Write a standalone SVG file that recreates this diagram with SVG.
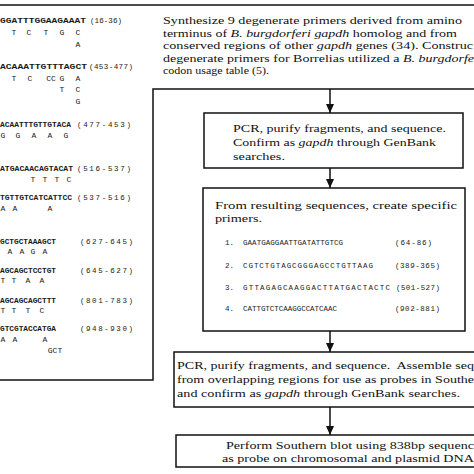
<svg xmlns="http://www.w3.org/2000/svg" width="474" height="474" viewBox="0 0 474 474">
<style>
.seq{font-family:"Liberation Mono",monospace;font-size:8px;fill:#1a1a1a;font-weight:bold}
.var{font-family:"Liberation Mono",monospace;font-size:8px;fill:#1a1a1a;text-anchor:middle}
.lab{font-family:"Liberation Mono",monospace;font-size:7.5px;fill:#1a1a1a}
.p{font-family:"Liberation Serif",serif;font-size:11px;fill:#111}
.ps{font-family:"Liberation Mono",monospace;font-size:7.5px;fill:#1a1a1a}
.box{fill:#fff;stroke:#111;stroke-width:1.5}
.ln{fill:none;stroke:#111;stroke-width:1.5}
.c{stroke:#111;stroke-width:1.5;fill:none;marker-end:url(#ah)}
</style>
<defs>
<marker id="ah" markerUnits="userSpaceOnUse" markerWidth="8" markerHeight="10" refX="9" refY="4" orient="auto">
<path d="M0,0 L9,4 L0,8 z" fill="#111"/>
</marker>
</defs>
<rect width="474" height="474" fill="#fff"/>
<g id="frame">
<line class="ln" x1="0" y1="5" x2="474" y2="5"/>
<path class="ln" d="M0,380 H153 V89 H480"/>
</g>
<g id="primer-list">
<text class="seq" x="0" y="23" textLength="86" lengthAdjust="spacingAndGlyphs">GGATTTGGAAGAAAT</text>
<text class="lab" x="90" y="23" textLength="32">(16-36)</text>
<text class="var" y="35"><tspan x="14">T</tspan><tspan x="29">C</tspan><tspan x="46">T</tspan><tspan x="62">G</tspan><tspan x="78">C</tspan></text>
<text class="var" x="78" y="47">A</text>

<text class="seq" x="0" y="69" textLength="87" lengthAdjust="spacingAndGlyphs">ACAAATTGTTTAGCT</text>
<text class="lab" x="89" y="69" textLength="44">(453-477)</text>
<text class="var" y="81"><tspan x="14">T</tspan><tspan x="30">C</tspan><tspan x="51">CC</tspan><tspan x="62">G</tspan><tspan x="78">A</tspan></text>
<text class="var" y="92"><tspan x="62">T</tspan><tspan x="78">C</tspan></text>
<text class="var" x="78" y="104">G</text>

<text class="seq" x="0" y="127" textLength="71" lengthAdjust="spacingAndGlyphs">ACAATTTGTTGTACA</text>
<text class="lab" x="77" y="127" textLength="54">(477-453)</text>
<text class="var" y="138"><tspan x="3">G</tspan><tspan x="18">G</tspan><tspan x="34">A</tspan><tspan x="50">A</tspan><tspan x="66">G</tspan></text>

<text class="seq" x="0" y="171" textLength="73" lengthAdjust="spacingAndGlyphs">ATGACAACAGTACAT</text>
<text class="lab" x="77" y="171" textLength="54">(516-537)</text>
<text class="var" y="182"><tspan x="33">T</tspan><tspan x="45">T</tspan><tspan x="57">T</tspan><tspan x="69">C</tspan></text>

<text class="seq" x="0" y="200" textLength="72" lengthAdjust="spacingAndGlyphs">TGTTGTCATCATTCC</text>
<text class="lab" x="77" y="200" textLength="54">(537-516)</text>
<text class="var" y="211"><tspan x="3">A</tspan><tspan x="15">A</tspan><tspan x="50">A</tspan></text>

<text class="seq" x="0" y="244" textLength="56" lengthAdjust="spacingAndGlyphs">GCTGCTAAAGCT</text>
<text class="lab" x="80" y="244" textLength="53">(627-645)</text>
<text class="var" y="254"><tspan x="10">A</tspan><tspan x="22">A</tspan><tspan x="33">G</tspan><tspan x="45">A</tspan></text>

<text class="seq" x="0" y="273" textLength="56" lengthAdjust="spacingAndGlyphs">AGCAGCTCCTGT</text>
<text class="lab" x="80" y="273" textLength="53">(645-627)</text>
<text class="var" y="283"><tspan x="3">T</tspan><tspan x="14">T</tspan><tspan x="28">A</tspan><tspan x="42">A</tspan></text>

<text class="seq" x="0" y="303" textLength="56" lengthAdjust="spacingAndGlyphs">AGCAGCAGCTTT</text>
<text class="lab" x="80" y="303" textLength="53">(801-783)</text>
<text class="var" y="313"><tspan x="3">T</tspan><tspan x="14">T</tspan><tspan x="28">T</tspan><tspan x="42">C</tspan></text>

<text class="seq" x="0" y="331" textLength="56" lengthAdjust="spacingAndGlyphs">GTCGTACCATGA</text>
<text class="lab" x="80" y="331" textLength="53">(948-930)</text>
<text class="var" y="342"><tspan x="3">A</tspan><tspan x="15">A</tspan><tspan x="45">A</tspan></text>
<text class="var" x="55" y="353">GCT</text>
</g>
<g id="intro">
<text class="p" x="163" y="24" textLength="299" lengthAdjust="spacingAndGlyphs">Synthesize 9 degenerate primers derived from amino</text>
<text class="p" x="163" y="36.5" textLength="294" lengthAdjust="spacingAndGlyphs">terminus of <tspan font-style="italic">B. burgdorferi gapdh</tspan> homolog and from</text>
<text class="p" x="163" y="49" textLength="310" lengthAdjust="spacingAndGlyphs">conserved regions of other <tspan font-style="italic">gapdh</tspan> genes (34). Construc</text>
<text class="p" x="163" y="61.5" textLength="311" lengthAdjust="spacingAndGlyphs">degenerate primers for Borrelias utilized a <tspan font-style="italic">B. burgdorfe</tspan></text>
<text class="p" x="163" y="74" textLength="106" lengthAdjust="spacingAndGlyphs">codon usage table (5).</text>
</g>
<g id="connectors">
<line class="c" x1="330" y1="89" x2="330" y2="113"/>
<line class="c" x1="330" y1="168" x2="330" y2="188"/>
<line class="c" x1="330" y1="331" x2="330" y2="352"/>
<line class="c" x1="330" y1="407" x2="330" y2="435"/>
</g>
<g id="step1">
<rect class="box" x="204" y="113" width="259" height="55"/>
<text class="p" x="233" y="132" textLength="213" lengthAdjust="spacingAndGlyphs">PCR, purify fragments, and sequence.</text>
<text class="p" x="233" y="146" textLength="203" lengthAdjust="spacingAndGlyphs">Confirm as <tspan font-style="italic">gapdh</tspan> through GenBank</text>
<text class="p" x="233" y="160" textLength="52" lengthAdjust="spacingAndGlyphs">searches.</text>
</g>
<g id="step2">
<rect class="box" x="203" y="188" width="262" height="143"/>
<text class="p" x="215" y="209" textLength="242" lengthAdjust="spacingAndGlyphs">From resulting sequences, create specific</text>
<text class="p" x="215" y="222" textLength="47" lengthAdjust="spacingAndGlyphs">primers.</text>
<text class="ps" x="225" y="245">1.</text>
<text class="ps" x="243" y="245" textLength="100">GAATGAGGAATTGATATTGTCG</text>
<text class="ps" x="395" y="245" textLength="37">(64-86)</text>
<text class="ps" x="225" y="268">2.</text>
<text class="ps" x="243" y="268" textLength="130">CGTCTGTAGCGGGAGCCTGTTAAG</text>
<text class="ps" x="395" y="268" textLength="45">(389-365)</text>
<text class="ps" x="225" y="290">3.</text>
<text class="ps" x="243" y="290" textLength="147">GTTAGAGCAAGGACTTATGACTACTC</text>
<text class="ps" x="396" y="290" textLength="44">(501-527)</text>
<text class="ps" x="225" y="311">4.</text>
<text class="ps" x="243" y="311" textLength="94">CATTGTCTCAAGGCCATCAAC</text>
<text class="ps" x="395" y="311" textLength="45">(902-881)</text>
</g>
<g id="step3">
<rect class="box" x="174" y="352" width="310" height="55"/>
<text class="p" x="177" y="369" textLength="297" lengthAdjust="spacingAndGlyphs" xml:space="preserve">PCR, purify fragments, and sequence.  Assemble seq</text>
<text class="p" x="177" y="383" textLength="297" lengthAdjust="spacingAndGlyphs">from overlapping regions for use as probes in Southe</text>
<text class="p" x="177" y="397" textLength="283" lengthAdjust="spacingAndGlyphs">and confirm as <tspan font-style="italic">gapdh</tspan> through GenBank searches.</text>
</g>
<g id="step4">
<rect class="box" x="176" y="435" width="310" height="32"/>
<text class="p" x="226" y="449" textLength="248" lengthAdjust="spacingAndGlyphs">Perform Southern blot using 838bp sequenc</text>
<text class="p" x="222" y="462" textLength="252" lengthAdjust="spacingAndGlyphs">as probe on chromosomal and plasmid DNA</text>
</g>
</svg>
